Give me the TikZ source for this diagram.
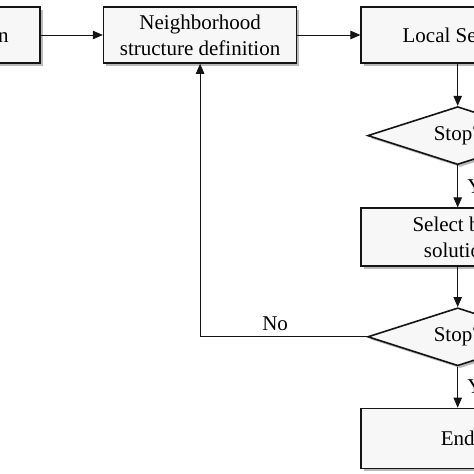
\documentclass[tikz,border=0pt]{standalone}
\usepackage{fontspec}
\setmainfont{Liberation Serif}
\usepackage{tikz}
\usetikzlibrary{arrows.meta,positioning,shapes.geometric,shadows}
\definecolor{fGray}{RGB}{247,247,247}
\definecolor{fLine}{RGB}{20,20,20}
\tikzset{
stepbox/.style={rectangle,draw=fLine,line width=1.6pt,fill=fGray,minimum width=193pt,minimum height=56pt,align=center,inner sep=2pt,
  font=\fontsize{21}{26}\selectfont,drop shadow={shadow xshift=2.5pt,shadow yshift=-2.5pt,fill=black!60,opacity=.45}},
decision/.style={diamond,draw=fLine,line width=1.6pt,fill=fGray,minimum width=180pt,minimum height=58pt,inner sep=0pt,shape aspect=3,
  font=\fontsize{21}{26}\selectfont,drop shadow={shadow xshift=2.5pt,shadow yshift=-2.5pt,fill=black!60,opacity=.45}},
lbl/.style={font=\fontsize{21}{26}\selectfont},
arrow/.style={-{Triangle[length=10pt,width=8.5pt]},line width=.8pt,draw=fLine}
}
\begin{document}
\begin{tikzpicture}[x=1pt,y=-1pt]
\useasboundingbox (0,0) rectangle (474,474);
\fill[white] (0,0) rectangle (474,474);
\clip (0,0) rectangle (474,474);
\node[stepbox,minimum width=170pt] (init) at (-45,35) {Initialization};
\node[stepbox,right=62pt of init] (nbh) {Neighborhood\\structure definition};
\node[stepbox,right=63pt of nbh] (ls) {Local Search};
\node[decision,below=42pt of ls] (stop1) {Stop?};
\node[stepbox,below=42pt of stop1,minimum height=58pt] (sel) {Select best\\solution};
\node[decision,below=40pt of sel] (stop2) {Stop?};
\node[stepbox,below=41pt of stop2,minimum height=60pt] (fin) {End};
\draw[arrow] (init)--(nbh);
\draw[arrow] (nbh)--(ls);
\draw[arrow] (ls)--(stop1);
\draw[arrow] (stop1)--node[lbl,right=6pt]{Yes}(sel);
\draw[arrow] (sel)--(stop2);
\draw[arrow] (stop2)--node[lbl,right=6pt]{Yes}(fin);
\draw[arrow] (stop2.west)--node[lbl,above=2pt,pos=.55]{No}(stop2.west-|nbh.south)--(nbh.south);
\end{tikzpicture}
\end{document}
